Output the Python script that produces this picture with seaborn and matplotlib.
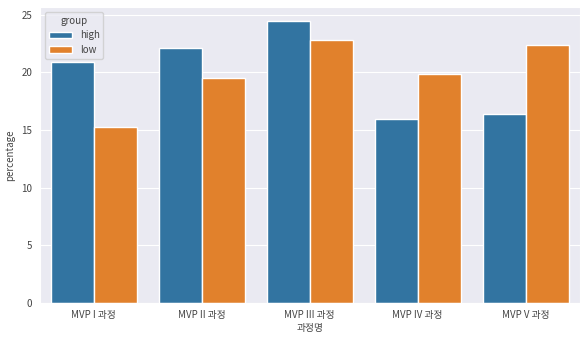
import matplotlib
matplotlib.use("Agg")
import matplotlib.pyplot as plt
import seaborn as sns
import pandas as pd

courses = ["MVP I 과정", "MVP II 과정", "MVP III 과정", "MVP IV 과정", "MVP V 과정"]
high = [20.9, 22.1, 24.5, 15.95, 16.35]
low = [15.3, 19.5, 22.8, 19.85, 22.4]
groups = ["high", "low"]

df = pd.DataFrame({
    "과정명": courses * 2,
    "percentage": high + low,
    "group": [groups[0]] * len(courses) + [groups[1]] * len(courses),
})

sns.set_style("darkgrid")
plt.rcParams["font.family"] = ["Noto Sans CJK KR", "DejaVu Sans"]
plt.rcParams["axes.unicode_minus"] = False

fig = plt.figure(figsize=(5.85, 3.38), dpi=100)
ax = fig.add_axes([0.068, 0.104, 0.923, 0.876])
sns.barplot(data=df, x="과정명", y="percentage", hue="group",
            palette="tab10", ax=ax)

ax.set_ylim(0, 25.7)
ax.tick_params(labelsize=7, pad=2, colors="#444444")
ax.set_xlabel("과정명", fontsize=7, labelpad=2, color="#444444")
ax.set_ylabel("percentage", fontsize=7, labelpad=4, color="#444444")
leg = ax.legend(title="group", fontsize=7, title_fontsize=7, loc="upper left",
                handlelength=2.4)
for t in leg.get_texts():
    t.set_color("#444444")
leg.get_title().set_color("#444444")

fig.savefig("out.png", dpi=100)
